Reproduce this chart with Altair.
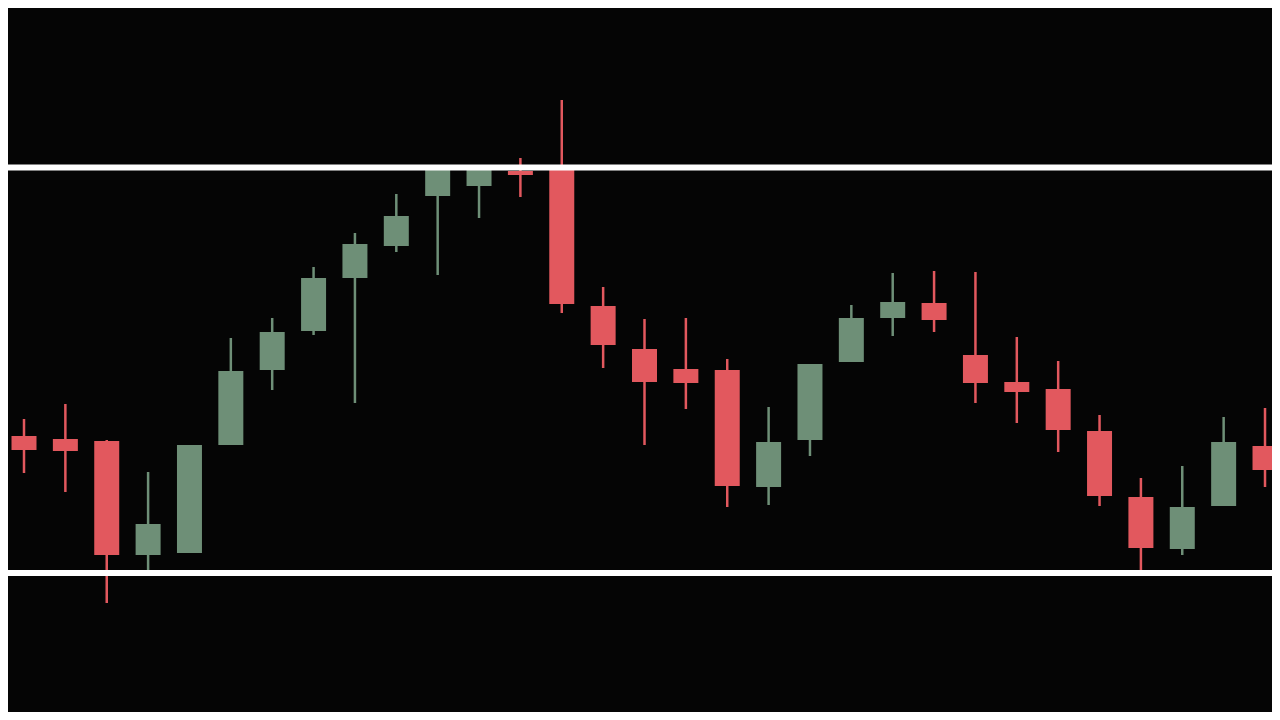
import altair as alt
import pandas as pd

# Candle data (price units)
idx = list(range(31))
opens = [78.20, 78.05, 77.95, 72.25, 72.35, 77.75, 81.50, 83.45, 86.10, 87.70,
         90.20, 90.70, 91.45, 91.50, 84.70, 82.55, 81.55, 81.50, 75.65, 78.00,
         81.90, 84.10, 84.85, 82.25, 80.90, 80.55, 78.45, 75.15, 72.55, 74.70, 77.70]
closes = [77.50, 77.45, 72.25, 73.80, 77.75, 81.45, 83.40, 86.10, 87.80, 89.20,
          91.55, 91.50, 91.25, 84.80, 82.75, 80.90, 80.85, 75.70, 77.90, 81.80,
          84.10, 84.90, 84.00, 80.85, 80.40, 78.50, 75.20, 72.60, 74.65, 77.90, 76.50]
highs = [79.05, 79.80, 78.00, 76.40, 77.75, 83.10, 84.10, 86.65, 88.35, 90.30,
         91.55, 91.50, 92.10, 95.00, 85.65, 84.05, 84.10, 82.05, 79.65, 81.80,
         84.75, 86.35, 86.45, 86.40, 83.15, 81.95, 79.25, 76.10, 76.70, 79.15, 79.60]
lows = [76.35, 75.40, 69.85, 71.45, 72.35, 77.75, 80.50, 83.25, 79.85, 87.40,
        86.25, 89.10, 90.15, 84.35, 81.60, 77.75, 79.55, 74.65, 74.75, 77.20,
        81.90, 83.20, 83.40, 79.85, 78.85, 77.40, 74.70, 71.45, 72.25, 74.70, 75.65]
levels = [91.625, 71.35]  # resistance, support

df = pd.DataFrame({"i": idx, "open": opens, "close": closes, "high": highs, "low": lows})
df["dir"] = ["up" if c > o else "down" for o, c in zip(opens, closes)]
lv = pd.DataFrame({"level": levels})

xs = alt.Scale(domain=[-0.3868, 30.169], nice=False, zero=False, padding=0)
ys = alt.Scale(domain=[64.4, 99.6], nice=False, zero=False, padding=0)
col = alt.Color("dir:N", scale=alt.Scale(domain=["up", "down"], range=["#6e8f77", "#e2585e"]), legend=None)

base = alt.Chart(df)
wicks = base.mark_rule(strokeWidth=2.5).encode(
    x=alt.X("i:Q", scale=xs, axis=None),
    y=alt.Y("low:Q", scale=ys, axis=None),
    y2="high:Q",
    color=col,
)
bodies = base.mark_bar(size=25).encode(
    x=alt.X("i:Q", scale=xs, axis=None),
    y=alt.Y("open:Q", scale=ys, axis=None),
    y2="close:Q",
    color=col,
)
lines = alt.Chart(lv).mark_rule(color="white", strokeWidth=6).encode(
    y=alt.Y("level:Q", scale=ys, axis=None)
)

chart = alt.layer(wicks, bodies, lines).properties(
    width=1264, height=704, padding=0, background="#050505",
    autosize=alt.AutoSizeParams(type="none")
).configure_view(stroke=None)

chart.save("out.html", embed_options={"renderer": "svg", "actions": False})
